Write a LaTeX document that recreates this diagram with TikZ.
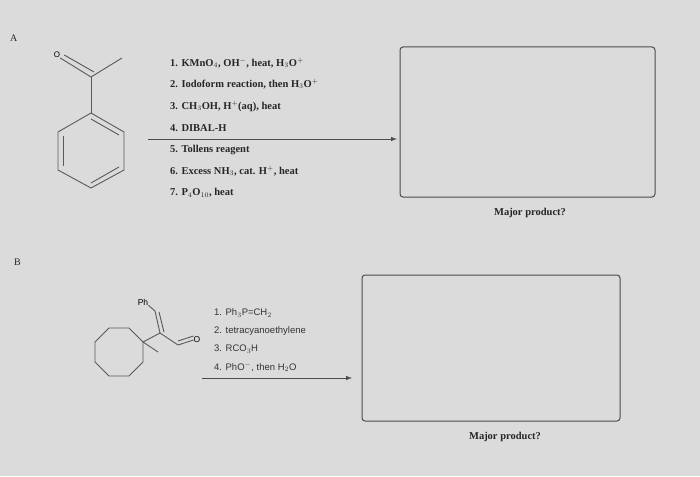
\documentclass[tikz,border=0pt]{standalone}
\usepackage{fontspec}
\setmainfont{Liberation Serif}
\newfontfamily\sansf{Liberation Sans}
\usetikzlibrary{calc}
\begin{document}
\begin{tikzpicture}[x=1pt,y=-1pt,
  bond/.style={line width=0.9pt,color=black!65},
  rtxt/.style={anchor=west,inner sep=0pt,font=\fontsize{10.5}{12}\selectfont\bfseries,text=black!85},
  stxt/.style={anchor=west,inner sep=0pt,font=\sansf\fontsize{9.5}{11}\selectfont,text=black!80},
  pbox/.style={draw=black!70,line width=1pt,rounded corners=3pt},
  arr/.style={line width=1pt,color=black!70,-latex}]
\fill[black!14] (0,0) rectangle (700,476);
\useasboundingbox (0,0) rectangle (700,476);
\node[rtxt,font=\fontsize{10}{12}\selectfont] (la) at (10,38) {A};
\node[rtxt,font=\fontsize{10}{12}\selectfont] (lb) at (14,262) {B};
% acetophenone
\node[inner sep=0pt,font=\sansf\fontsize{8}{9}\selectfont] (oa) at (57,55) {O};
\coordinate (c1) at (91,77);
\coordinate (me) at (122,58);
\draw[bond] (oa.south east) -- (c1) -- (me);
\draw[bond] ($(oa.south east)+(4,-3)$) -- ($(c1)+(3,-5)$);
\coordinate (r1) at (91,113); \coordinate (r2) at (124,132); \coordinate (r3) at (124,170);
\coordinate (r4) at (91,188); \coordinate (r5) at (58,170); \coordinate (r6) at (58,132);
\draw[bond] (c1) -- (r1);
\draw[bond] (r1) -- (r2) -- (r3) -- (r4) -- (r5) -- (r6) -- cycle;
\draw[bond] (63,136) -- (63,166);
\draw[bond] (91,119) -- (119,135);
\draw[bond] (119,167) -- (91,183);
% reagents A
\node[rtxt] (a1) at (170,63) {1. KMnO$_4$, OH$^-$, heat, H$_3$O$^+$};
\node[rtxt] (a2) at (170,84) {2. Iodoform reaction, then H$_3$O$^+$};
\node[rtxt] (a3) at (170,106) {3. CH$_3$OH, H$^+$(aq), heat};
\node[rtxt] (a4) at (170,128) {4. DIBAL-H};
\node[rtxt] (a5) at (170,150) {5. Tollens reagent};
\node[rtxt] (a6) at (170,171) {6. Excess NH$_3$, cat. H$^+$, heat};
\node[rtxt] (a7) at (170,193) {7. P$_4$O$_{10}$, heat};
\coordinate (as) at (148,139); \coordinate (ae) at (397,139);
\draw[arr] (as) -- (ae);
\draw[pbox] (400,47) rectangle (655,197);
\node[rtxt,anchor=center] (ma) at (530,213) {Major product?};
% B molecule
\coordinate (oc) at (119,352);
\draw[bond] ($(oc)+(-22.5:26)$) \foreach \a in {67.5,112.5,...,337.5}{ -- ($(oc)+(-\a:26)$)} -- cycle;
\coordinate (q) at ($(oc)+(-22.5:26)$);
\coordinate (mb) at (158,352);
\coordinate (ca) at (160,333);
\coordinate (ch) at (155,311);
\coordinate (cho) at (178,345);
\node[inner sep=0pt,font=\sansf\fontsize{8.5}{9}\selectfont] (ph) at (143,302) {Ph};
\node[inner sep=0pt,font=\sansf\fontsize{8.5}{9}\selectfont] (ob) at (197,340) {O};
\draw[bond] (q) -- (mb);
\draw[bond] (q) -- (ca) -- (ch) -- (ph.south east);
\draw[bond] (164,332) -- (159,312);
\draw[bond] (ca) -- (cho) -- (ob.west);
\draw[bond] ($(cho)+(0,-4)$) -- ($(ob.west)+(0,-4)$);
% reagents B
\node[stxt] (b1) at (214,313) {1. Ph$_3$P=CH$_2$};
\node[stxt] (b2) at (214,331) {2. tetracyanoethylene};
\node[stxt] (b3) at (214,349) {3. RCO$_3$H};
\node[stxt] (b4) at (214,367) {4. PhO$^-$, then H$_2$O};
\coordinate (bs) at (202,378); \coordinate (be) at (352,378);
\draw[arr] (bs) -- (be);
\draw[pbox] (362,275) rectangle (620,421);
\node[rtxt,anchor=center] (mb2) at (505,437) {Major product?};
\end{tikzpicture}
\end{document}
